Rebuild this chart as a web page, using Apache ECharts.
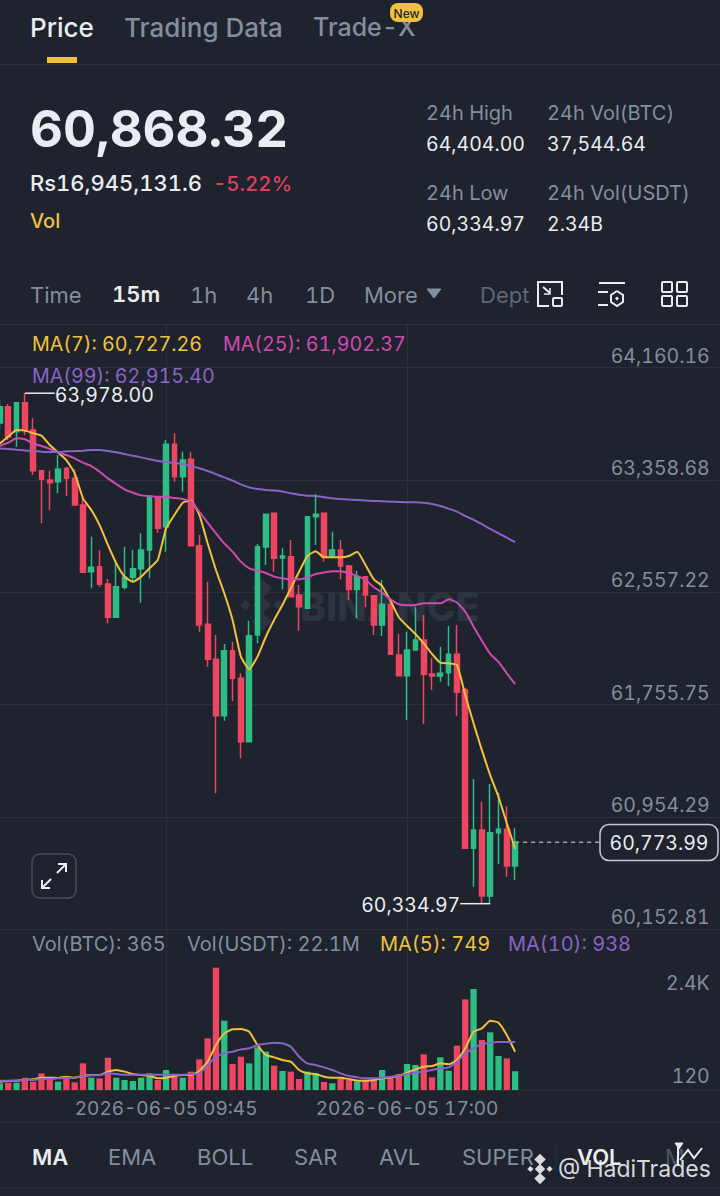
<!DOCTYPE html>
<html><head><meta charset="utf-8">
<style>html,body{margin:0;padding:0;background:#1e232e}#c{width:720px;height:1196px}
#c text{font-variant-numeric:tabular-nums;font-feature-settings:"tnum" 1}</style>
<script src="https://cdn.jsdelivr.net/npm/echarts@6/dist/echarts.min.js"></script>
</head><body><div id="c"></div>
<script>
const opens=[63765,63882,63703,63910,63715,63425,63359,63346,63442,63371,63180,62704,62740,62616,62379,62593,62664,62726,62859,63239,63025,63613,63382,63506,62890,62329,62079,61677,62140,61943,61491,62253,62880,63121,62802,62811,62538,62443,63097,63121,62807,62859,62745,62578,62668,62533,62324,62471,62110,61962,62145,62217,61974,61960,61983,62115,61860,60730,60861,60390,60841,60866,60604];
const closes=[63882,63665,63910,63715,63425,63364,63339,63435,63371,63180,62700,62736,62614,62379,62597,62664,62726,62859,63239,63014,63613,63382,63501,62890,62324,62079,61677,62140,61943,61491,62247,62883,63114,62800,62816,62526,62454,63097,63114,62807,62859,62745,62578,62668,62538,62324,62471,62115,61962,62145,62217,61972,61960,61979,62115,61843,60730,60861,60390,60841,60866,60604,60773.99];
const lows=[63715,63644,63596,63680,63394,63050,63145,63264,63244,63173,62695,62586,62597,62336,62374,62578,62633,62483,62657,62982,62847,63346,63275,62888,62276,62026,61123,61641,61781,61372,61489,62193,62752,62704,62578,62523,62283,62438,62895,62776,62802,62650,62502,62372,62450,62252,62245,62110,61960,61646,62145,61617,61860,61919,61888,61674,60725,60456,60338,60334.97,60618,60528,60504];
const highs=[63930,63901,63915,63978,63799,63430,63425,63537,63451,63435,63239,62954,62859,62652,62776,62883,62859,62978,63244,63244,63644,63692,63561,63561,62966,62633,62252,62188,62205,61979,62354,62902,63116,63123,62871,62930,62609,63102,63259,63123,62990,62930,62752,62711,62674,62538,62645,62473,62260,62276,62454,62395,62086,62169,62317,62324,61874,61225,61063,61189,61127,61032,60873];
const ma7=[63620,63668,63715,63711,63692,63675,63608,63554,63501,63406,63228,63144,63037,62895,62764,62669,62633,62669,62728,62788,63014,63109,63197,63211,63109,62907,62716,62550,62359,62098,62007,62098,62240,62360,62467,62585,62704,62816,62850,62807,62807,62807,62816,62847,62752,62650,62602,62497,62379,62317,62260,62193,62117,62055,62050,62038,61824,61622,61431,61253,61098,60908,60727.26];
const ma25=[63603,63625,63656,63649,63620,63601,63580,63556,63537,63513,63482,63458,63418,63370,63330,63292,63268,63249,63244,63239,63239,63230,63223,63204,63132,63054,62978,62906,62847,62776,62728,62711,62695,62669,62657,62650,62650,62664,62688,62698,62707,62707,62693,62674,62645,62593,62555,62507,62472,62465,62467,62479,62479,62479,62507,62484,62419,62312,62212,62117,62060,61979,61902.37];
const ma99=[63584,63580,63575,63570,63565,63561,63558,63558,63563,63565,63568,63572,63572,63565,63556,63544,63532,63520,63506,63494,63487,63480,63473,63458,63442,63423,63401,63377,63354,63327,63306,63294,63288,63283,63276,63264,63254,63247,63245,63235,63228,63223,63219,63216,63212,63209,63207,63204,63202,63200,63200,63197,63188,63173,63154,63133,63102,63074,63043,63009,62978,62947,62915.40];
const volumes=[130,143,143,241,163,326,196,163,261,150,522,241,228,632,241,196,176,241,326,196,391,280,241,359,600,1011,2393,1356,509,652,522,835,750,476,372,359,215,359,326,156,130,228,196,163,183,196,391,241,313,509,489,698,248,639,378,867,1773,1976,978,1128,665,619,365];
const volMa5=[163,176,183,196,209,241,241,235,261,241,274,293,293,359,391,359,313,293,280,228,241,274,293,293,372,554,880,1108,1187,1193,1141,880,685,639,587,554,391,326,313,261,241,241,215,183,183,196,228,248,274,339,404,456,469,522,502,587,815,1141,1206,1356,1317,1076,749];
const volMa10=[183,183,183,196,196,215,215,228,241,241,274,287,293,326,313,300,300,300,300,300,300,300,300,313,326,489,652,717,750,795,815,880,906,926,913,848,652,522,489,443,391,326,274,248,228,228,241,261,280,313,339,359,391,424,443,554,717,815,900,926,939,939,938];
const priceTicks=[60152.81,60954.29,61755.75,62557.22,63358.68,64160.16];
const volTicks=[120,2400];
const volTickLabels=['120','2.4K'];
const xTickLabels=['2026-06-05 09:45','2026-06-05 17:00'];
const highPoint=[3,63978.00], lowPoint=[59,60334.97], lastPrice=60773.99;
const maLegend=['MA(7): 60,727.26','MA(25): 61,902.37','MA(99): 62,915.40'];
const volLegend=['Vol(BTC): 365','Vol(USDT): 22.1M','MA(5): 749','MA(10): 938'];

const categories=[];
for(let i=0;i<87;i++){const m=4*60+45+15*i;const h=Math.floor(m/60)%24;
 categories.push('2026-06-05 '+String(h).padStart(2,'0')+':'+String(m%60).padStart(2,'0'));}

const BG='#1e232e',GRID='#2b303b',GRAY='#848e9c',GREEN='#2ebd85',RED='#ee4660',YEL='#f0c23c',PINK='#cf4bb0',PUR='#8a63c4',WHITE='#eaecef';
const F='Inter, sans-serif';
const candle=opens.map((o,i)=>[o,closes[i],lows[i],highs[i]]);
const bars=volumes.map((v,i)=>({value:v,itemStyle:{color:closes[i]>=opens[i]?GREEN:RED}}));
const tickIdx=(i,v)=>xTickLabels.includes(v||categories[i]);
const line=(name,data,color,xi,w)=>({name,type:'line',data,xAxisIndex:xi,yAxisIndex:xi,symbol:'none',smooth:0.15,
 lineStyle:{color,width:w||2},itemStyle:{color},z:5,silent:true});

const chart=echarts.init(document.getElementById('c'),null,{width:720,height:1196,renderer:'svg'});
const xBase={type:'category',data:categories,boundaryGap:true,axisTick:{show:false}};
chart.setOption({
 animation:false,backgroundColor:BG,
 grid:[{left:-4.25,right:1.28,top:325,height:604.2,outerBoundsMode:'none'},{left:-4.25,right:1.28,top:930,height:160,outerBoundsMode:'none'}],
 xAxis:[
  {...xBase,gridIndex:0,axisLine:{show:false},axisLabel:{show:false},
   splitLine:{show:true,interval:tickIdx,alignWithLabel:true,lineStyle:{color:GRID,width:1}}},
  {...xBase,gridIndex:1,axisLine:{show:true,lineStyle:{color:GRID}},
   axisLabel:{show:true,interval:tickIdx,color:GRAY,fontFamily:F,fontSize:19,margin:9,hideOverlap:false},
   splitLine:{show:true,interval:tickIdx,alignWithLabel:true,lineStyle:{color:GRID,width:1}}}
 ],
 yAxis:[
  {type:'value',gridIndex:0,position:'right',min:60152.81,max:64464.8,axisLine:{show:false},axisTick:{show:false,customValues:priceTicks},
   splitLine:{show:true,lineStyle:{color:GRID,width:1}},
   axisLabel:{inside:true,customValues:priceTicks,color:GRAY,fontFamily:F,fontSize:19.5,margin:9,verticalAlign:'bottom',padding:[0,0,2,0],
    formatter:v=>Number(v).toLocaleString('en-US',{minimumFractionDigits:2,maximumFractionDigits:2})}},
  {type:'value',gridIndex:1,position:'right',min:0,max:3130,axisLine:{show:false},axisTick:{show:false,customValues:volTicks},
   splitLine:{show:false},
   axisLabel:{inside:true,customValues:volTicks,color:GRAY,fontFamily:F,fontSize:19.5,margin:9,lineHeight:16,padding:[8,0,0,0],
    verticalAlignMinLabel:'bottom',verticalAlignMaxLabel:'top',verticalAlign:'bottom',
    formatter:v=>volTickLabels[volTicks.indexOf(Number(v))]}}
 ],
 series:[
  {type:'candlestick',name:'BTCUSDT',data:candle,xAxisIndex:0,yAxisIndex:0,barWidth:5.2,z:3,silent:true,
   itemStyle:{color:GREEN,color0:RED,borderColor:GREEN,borderColor0:RED,borderWidth:1.5}},
  line('MA(7)',ma7,YEL,0),line('MA(25)',ma25,PINK,0),line('MA(99)',ma99,PUR,0),
  {type:'bar',name:'Vol',data:bars,xAxisIndex:1,yAxisIndex:1,barWidth:6.3,z:2,silent:true},
  line('MA(5)',volMa5,YEL,1),line('MA(10)',volMa10,PUR,1)
 ]
});

const Z=50;
const t=(x,y,s,size,color,weight,align)=>({type:'text',x,y,z:Z,silent:true,style:{text:s,fill:color,fontFamily:F,fontSize:size,fontWeight:weight||400,align:align||'left',verticalAlign:'middle'}});
const hl=(x1,y1,x2,y2,color,w,dash,z)=>({type:'line',z:z||Z,silent:true,shape:{x1,y1,x2,y2},style:{stroke:color,lineWidth:w||1,lineDash:dash}});
const box=(x,y,w,h,r,stroke,fill,lw)=>({type:'rect',z:Z,silent:true,shape:{x,y,width:w,height:h,r},style:{stroke,fill:fill||'none',lineWidth:lw||2}});
const poly=(pts,stroke,lw,fill)=>({type:fill?'polygon':'polyline',z:Z,silent:true,shape:{points:pts},style:{stroke,fill:fill||'none',lineWidth:lw||2}});
const dia=(cx,cy,r,fill,z)=>({type:'polygon',z:z||Z,silent:true,shape:{points:[[cx,cy-r],[cx+r,cy],[cx,cy+r],[cx-r,cy]]},style:{fill}});
const logo=(cx,cy,u,fill,z)=>[dia(cx,cy,u,fill,z),dia(cx-1.85*u,cy,u*0.6,fill,z),dia(cx+1.85*u,cy,u*0.6,fill,z),
 dia(cx,cy-1.85*u,u*1.1,fill,z),dia(cx,cy+1.85*u,u*1.1,fill,z)];

const hp=chart.convertToPixel({gridIndex:0},highPoint);
const lp=chart.convertToPixel({gridIndex:0},lowPoint);
const cp=chart.convertToPixel({gridIndex:0},[62,lastPrice]);

const els=[
 // header
 t(30,27,'Price',26,WHITE,500),t(124,27,'Trading Data',26,GRAY,500),t(313,27,'Trade-X',25,GRAY,500),
 box(390,3,33,19,8,null,'#f0c23c'),t(406.5,13,'New',12,'#1e232e',500,'center'),
 {type:'rect',z:Z,silent:true,shape:{x:47,y:57,width:30,height:6},style:{fill:'#f0c23c'}},
 hl(0,64.5,720,64.5,GRID),
 t(30,128,'60,868.32',51,WHITE,700),
 t(30,183,'Rs16,945,131.6',22,WHITE,500),t(213,183,'-5.22%',20.5,'#d9435a',500),t(30,221,'Vol',20,YEL,500),
 t(426,113,'24h High',20,GRAY),t(547,113,'24h Vol(BTC)',20,GRAY),
 t(426,144,'64,404.00',19.5,WHITE),t(547,144,'37,544.64',19.5,WHITE),
 t(426,193,'24h Low',20,GRAY),t(547,193,'24h Vol(USDT)',20,GRAY),
 t(426,224,'60,334.97',19.5,WHITE),t(547,224,'2.34B',19.5,WHITE),
 // interval row
 t(30,295,'Time',22,GRAY),t(112,294,'15m',22,WHITE,600),t(190,295,'1h',22,GRAY),t(246,295,'4h',22,GRAY),t(305,295,'1D',22,GRAY),t(364,295,'More',22,GRAY),
 poly([[427,289],[441,289],[434,298]],GRAY,1,GRAY),
 t(480,295,'Dept',22,'#5f6775'),
 poly([[550,282],[562,282],[562,295]],WHITE,2),poly([[550,282],[538,282],[538,306],[549,306]],WHITE,2),
 box(553,298,9,8,1,WHITE),poly([[543,287],[550,293]],WHITE,2),poly([[550,288],[550,294],[544,294]],WHITE,1.5),
 hl(599,283,625,283,WHITE,2),hl(598,292,608,292,WHITE,2),hl(598,305,608,305,WHITE,2),
 poly([[617,291],[623,295],[623,302],[617,306],[611,302],[611,295],[617,291]],WHITE,2),dia(617,298.5,2,WHITE),
 box(662,282,10,10,1,WHITE),box(677,282,10,10,1,WHITE),box(662,296,10,10,1,WHITE),box(677,296,10,10,1,WHITE),
 hl(0,324.5,720,324.5,GRID),
 // indicator legends
 t(32,344,maLegend[0],19.7,YEL),t(223,344,maLegend[1],19.7,PINK),t(32,376,maLegend[2],19.7,PUR),
 t(32,944,volLegend[0],20,GRAY),t(187,944,volLegend[1],20,GRAY),t(380,944,volLegend[2],20,YEL),t(508,944,volLegend[3],20,PUR),
 // markers built from the axis scale
 hl(hp[0],hp[1],hp[0]+30,hp[1],WHITE,1.5),t(hp[0]+30,hp[1]+2,highPoint[1].toLocaleString('en-US',{minimumFractionDigits:2}),19.5,WHITE),
 hl(lp[0],lp[1],lp[0]-30,lp[1],WHITE,1.5),t(lp[0]-30,lp[1]+1,lowPoint[1].toLocaleString('en-US',{minimumFractionDigits:2}),19.5,WHITE,400,'right'),
 hl(cp[0],cp[1],600,cp[1],'#a0a6b0',1.5,[4,4]),
 box(600,824.5,118,36,9,'#c4c8ce',BG,1.5),t(659,cp[1]+1,lastPrice.toLocaleString('en-US',{minimumFractionDigits:2}),19.5,WHITE,400,'center'),
 // expand button
 box(32,854,44,44,8,'#474d59',BG,1.5),
 hl(42,888,51,879,WHITE,2),hl(57,873,66,864,WHITE,2),poly([[42,880],[42,888],[50,888]],WHITE,2),poly([[58,864],[66,864],[66,872]],WHITE,2),
 // bottom tabs
 hl(0,1122,720,1122,GRID),hl(0,1188,720,1188,GRID),
 t(32,1157,'MA',22,WHITE,600),t(108,1157,'EMA',22,GRAY),t(197,1157,'BOLL',22,GRAY),t(294,1157,'SAR',22,GRAY),t(379,1157,'AVL',22,GRAY),t(462,1157,'SUPER',22,GRAY),
 hl(556,1144,556,1170,GRID),t(577,1157,'VOL',22,WHITE,600),t(665,1157,'M',22,'#4d5563'),
 hl(678,1143,678,1166,WHITE,2),poly([[680,1160],[688,1150],[694,1158],[702,1148]],WHITE,2),poly([[675,1143],[683,1143],[679,1149]],WHITE,1,WHITE),
 t(558,1169,'@ HadiTrades',23,'rgba(235,236,240,0.92)'),
 ...logo(540,1169,5.2,'rgba(235,236,240,0.92)',Z),
 // background watermark
 ...logo(262,605,9,'#2d333f',1),
 {type:'text',x:300,y:606,z:1,silent:true,style:{text:'BINANCE',fill:'#2d333f',fontFamily:F,fontSize:39,fontWeight:800,verticalAlign:'middle'}}
];
chart.setOption({graphic:{elements:els}});
</script></body></html>
